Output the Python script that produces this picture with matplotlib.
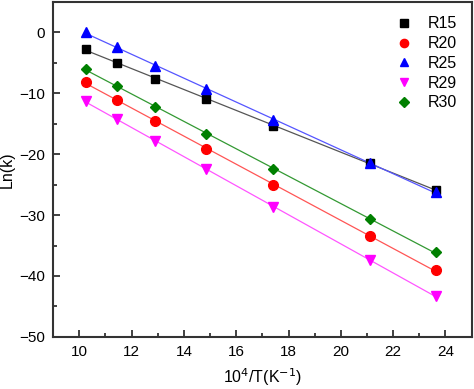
import numpy as np
import matplotlib.pyplot as plt
from matplotlib.ticker import MultipleLocator

# 10^4/T for 700, 600, 500, 400, 300, 200, 150 C
inv_t = [10.27, 11.44, 12.91, 14.84, 17.41, 21.11, 23.63]

r15 = [-2.7, -5.0, -7.6, -11.0, -15.4, -21.5, -25.8]
r20 = [-8.2, -11.1, -14.6, -19.1, -25.1, -33.4, -39.1]
r25 = [0.0, -2.4, -5.5, -9.3, -14.4, -21.5, -26.2]
r29 = [-11.3, -14.3, -17.9, -22.5, -28.6, -37.4, -43.3]
r30 = [-6.0, -8.8, -12.2, -16.7, -22.5, -30.6, -36.1]

labels = ['R15', 'R20', 'R25', 'R29', 'R30']
series = [r15, r20, r25, r29, r30]
markers = ['s', 'o', '^', 'v', 'D']
colors = ['black', 'red', 'blue', 'magenta', 'green']
line_colors = ['#555555', '#ff5555', '#5555ff', '#ff55ff', '#339933']
sizes = [6, 7, 7.5, 7.5, 5.5]

if __name__ == "__main__":
    plt.rcParams['font.family'] = ['Liberation Sans', 'DejaVu Sans']
    fig = plt.figure(figsize=(4.74, 3.89), dpi=100)
    ax = fig.add_axes([0.112, 0.134, 0.883, 0.861])

    x = np.array(inv_t)
    for lab, y, m, c, lc, s in zip(labels, series, markers, colors, line_colors, sizes):
        k, b = np.polyfit(x, y, 1)
        xx = np.array([x[0], x[-1]])
        ax.plot(xx, k * xx + b, color=lc, lw=0.9, zorder=2)
        ax.plot(x, y, ls='none', marker=m, color=c, ms=s, label=lab, zorder=3)

    ax.set_xlim(9, 25)
    ax.set_ylim(-50, 5)
    ax.xaxis.set_major_locator(MultipleLocator(2))
    ax.xaxis.set_minor_locator(MultipleLocator(1))
    ax.yaxis.set_major_locator(MultipleLocator(10))
    ax.yaxis.set_minor_locator(MultipleLocator(5))
    ax.tick_params(which='both', direction='in', top=False, right=False,
                   width=1.3, color='#333333', labelsize=11)
    ax.tick_params(which='major', length=5, pad=6)
    ax.tick_params(which='minor', length=3)
    for sp in ax.spines.values():
        sp.set_linewidth(1.5)
        sp.set_color('#333333')

    ax.set_xlabel('10$^4$/T(K$^{-1}$)', fontsize=11.5, labelpad=5)
    ax.set_ylabel('Ln(k)', fontsize=11.5, labelpad=3)

    ax.legend(loc='upper right', frameon=False, fontsize=11.5, handletextpad=0.9,
              labelspacing=0.3, handlelength=1.2, borderaxespad=0.5,
              markerscale=0.85)

    fig.savefig('out.png', dpi=100)
